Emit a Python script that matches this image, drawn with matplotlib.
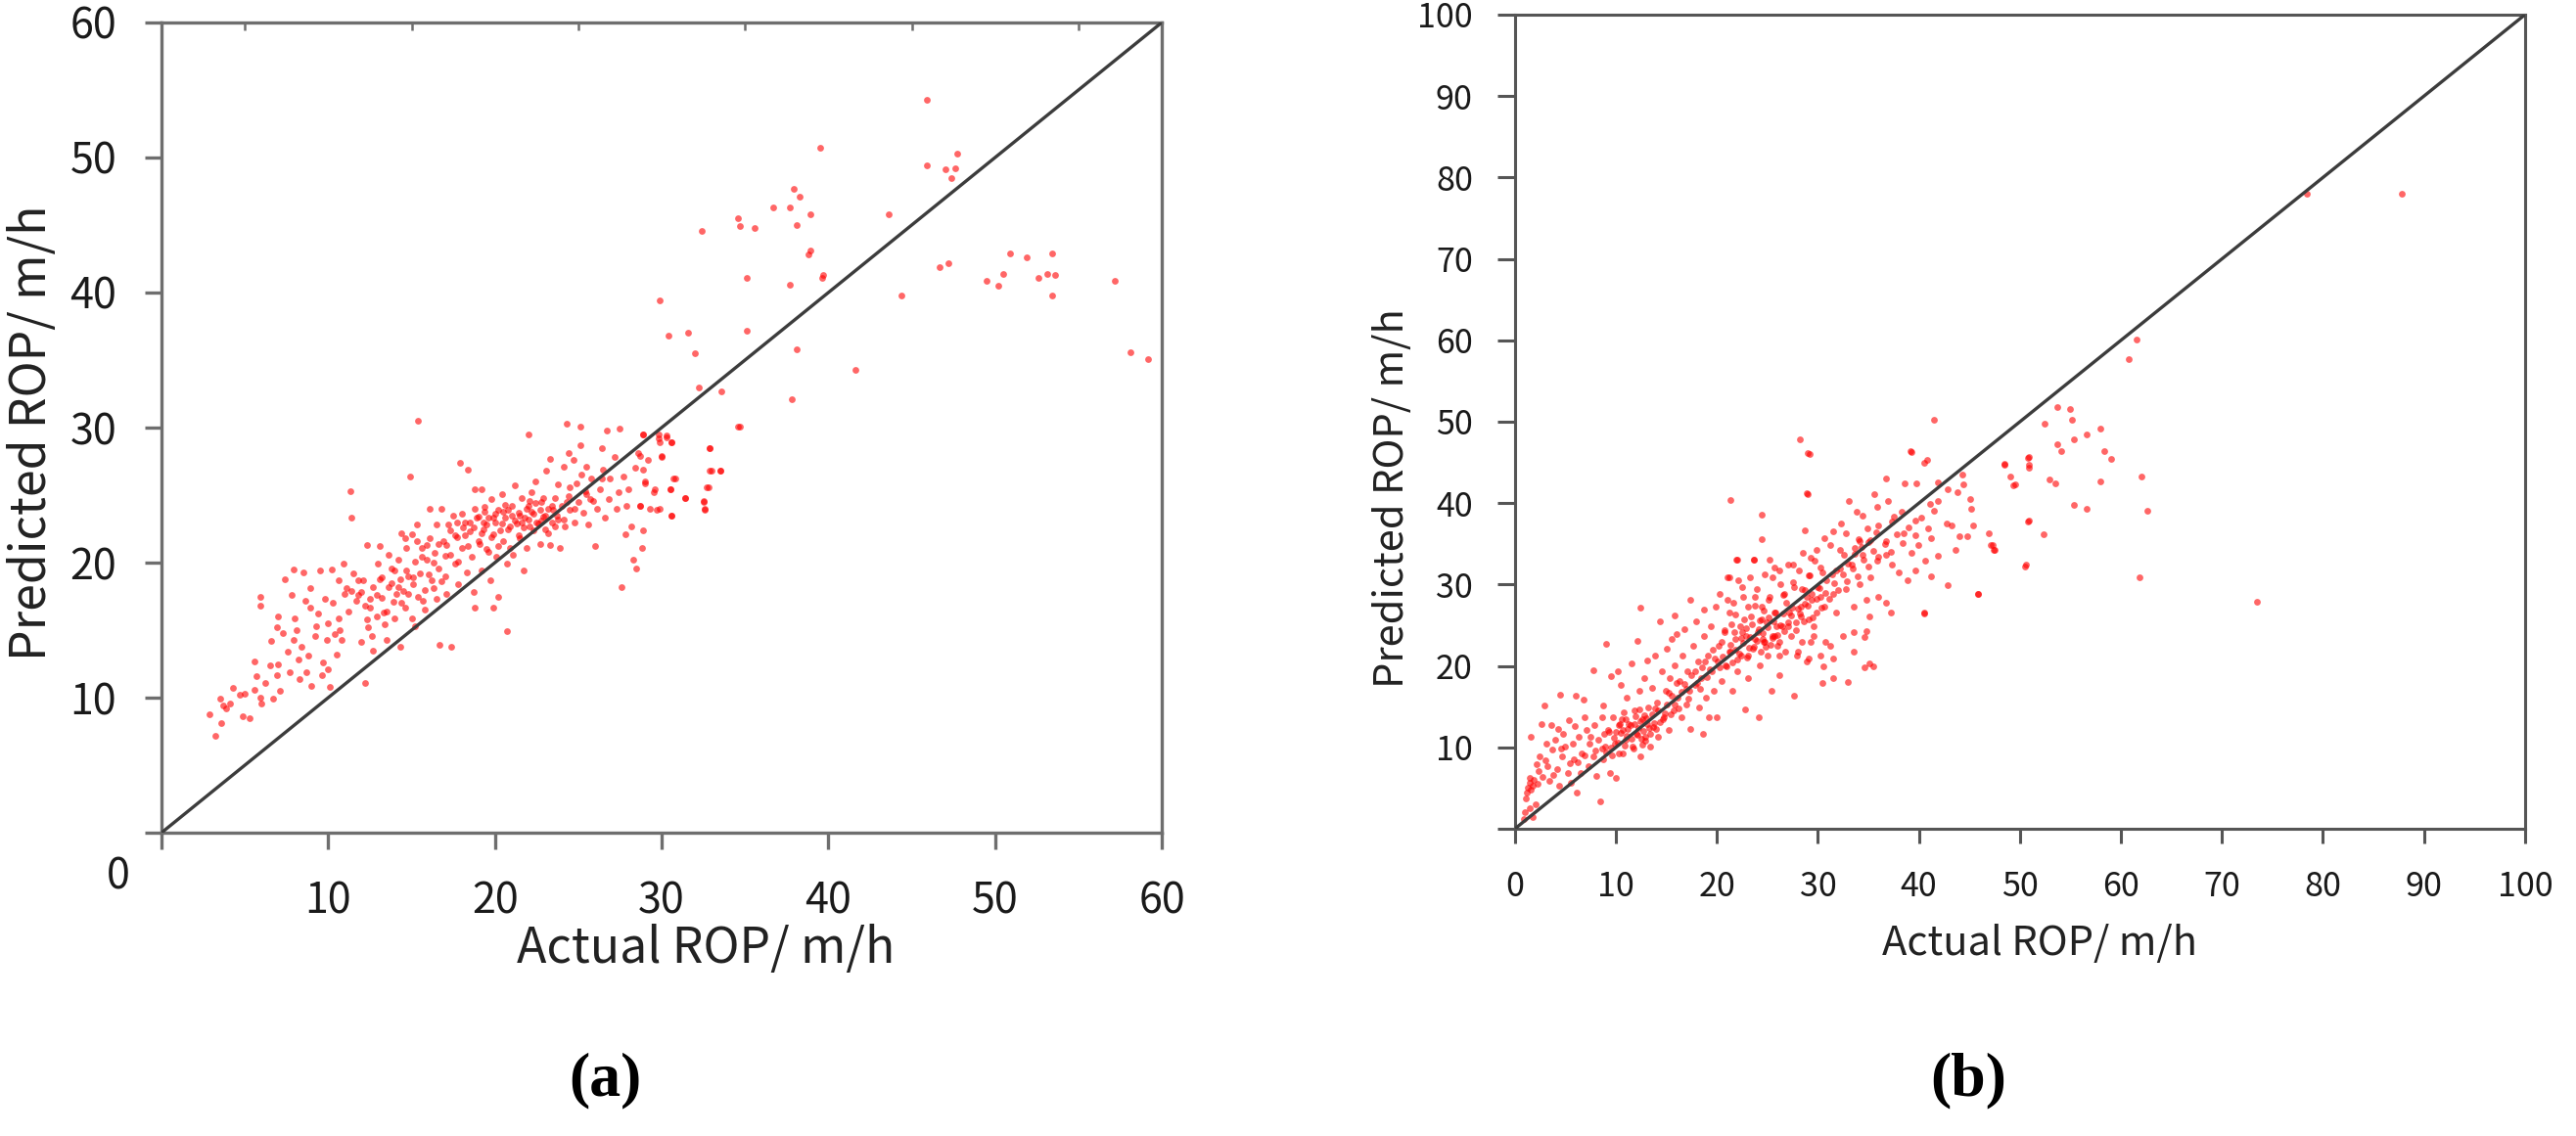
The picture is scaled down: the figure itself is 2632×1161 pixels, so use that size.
import matplotlib
matplotlib.use("Agg")
import numpy as np
import matplotlib.pyplot as plt
from matplotlib.ticker import FixedLocator

plt.rcParams["font.family"] = ["Noto Sans CJK SC", "DejaVu Sans"]

# ---- panel (a): (actual, predicted) pairs ----
a_tail = [
    (3.2, 7.2), (3.6, 8.1), (2.9, 8.8), (3.7, 9.4), (3.5, 9.9), (3.9, 9.2), (4.3, 10.7),
    (4.7, 10.2), (4.9, 8.6), (5.3, 8.5), (5.6, 10.6), (5.6, 12.7), (5.7, 11.6), (5.9, 10.0),
    (6.0, 9.6), (5.9, 17.5), (5.9, 16.8), (6.5, 12.4), (6.6, 14.2), (6.7, 9.9), (6.9, 11.7),
    (7.0, 12.5), (7.1, 10.5), (6.9, 15.2), (7.0, 16.0), (7.4, 18.8), (7.6, 13.4), (7.7, 11.9),
    (7.8, 17.6), (7.9, 19.5), (7.9, 14.3), (8.0, 15.9), (8.1, 15.0), (8.3, 11.4), (8.4, 13.8),
    (8.5, 19.3), (8.7, 11.9), (8.8, 13.1), (8.9, 18.1), (8.9, 16.7), (9.0, 10.9), (9.2, 14.6),
    (9.3, 15.3), (9.5, 19.4), (9.6, 11.7), (9.7, 12.6), (9.8, 17.3), (9.9, 14.3), (10.0, 15.5),
    (10.0, 12.1), (10.1, 10.8), (10.2, 19.5), (10.3, 17.0), (10.4, 14.7), (10.6, 18.7),
    (10.6, 15.9), (10.7, 15.0), (10.8, 14.3), (10.9, 19.9), (4.1, 9.6), (5.0, 10.3),
    (6.2, 11.1), (7.3, 14.8), (8.2, 12.8), (9.4, 16.2), (10.5, 13.2), (8.6, 17.2),
]
a_core = [
    (11.0, 17.7), (11.1, 18.1), (11.2, 16.4), (11.4, 23.3), (11.3, 25.3), (11.5, 19.2),
    (11.7, 17.2), (11.8, 18.7), (12.0, 17.8), (12.0, 14.1), (12.1, 18.7), (12.2, 11.1),
    (12.3, 21.3), (12.3, 15.8), (12.4, 15.2), (12.5, 16.7), (12.6, 14.6), (12.7, 13.5),
    (12.9, 17.6), (13.0, 19.9), (13.1, 21.2), (13.2, 18.9), (13.3, 16.3), (13.4, 15.4),
    (13.5, 14.3), (13.6, 20.6), (13.6, 18.2), (13.8, 19.6), (13.9, 17.1), (14.0, 15.9),
    (14.1, 17.7), (14.2, 20.2), (14.3, 18.8), (14.3, 13.8), (14.4, 22.2), (14.5, 17.9),
    (14.6, 16.7), (14.7, 21.1), (14.7, 19.4), (14.8, 17.7), (14.9, 26.4), (15.0, 22.1),
    (15.0, 15.9), (15.1, 18.4), (15.2, 20.1), (15.2, 15.3), (15.3, 22.8), (15.4, 30.5),
    (15.5, 19.2), (15.6, 21.1), (15.7, 17.2), (15.8, 16.5), (15.9, 20.2), (16.1, 24.0),
    (16.1, 21.8), (16.2, 18.7), (16.3, 18.1), (16.4, 20.7), (16.5, 17.3), (16.5, 22.8),
    (16.6, 19.6), (16.7, 13.9), (16.8, 24.0), (16.9, 21.6), (17.0, 19.0), (17.1, 17.7),
    (17.2, 22.8), (17.3, 20.6), (17.4, 13.8), (17.5, 23.5), (17.6, 19.9), (17.7, 21.9),
    (17.8, 18.4), (17.9, 27.4), (18.0, 21.1), (18.2, 23.0), (18.3, 19.3), (18.4, 26.9),
    (18.5, 22.3), (18.6, 20.4), (18.7, 17.8), (18.8, 25.4), (18.8, 16.7), (18.9, 23.3),
    (19.0, 21.6), (19.2, 25.4), (19.2, 19.4), (19.3, 22.5), (19.4, 24.1), (19.5, 21.0),
    (19.6, 23.3), (19.7, 18.7), (19.8, 24.7), (19.9, 22.1), (19.9, 16.7), (20.0, 23.0),
    (20.1, 20.4), (20.2, 23.9), (20.2, 17.5), (20.4, 25.1), (20.5, 21.6), (20.6, 23.3),
    (20.7, 14.9), (20.7, 19.9), (20.8, 22.5), (20.9, 21.1), (21.0, 24.2), (21.1, 20.6),
    (21.2, 25.7), (21.3, 22.9), (21.4, 23.7), (21.5, 21.8), (21.6, 24.8), (21.7, 19.4),
    (21.8, 23.3), (21.9, 21.1), (22.0, 29.5), (22.0, 24.2), (22.1, 22.7), (22.2, 25.2),
    (22.3, 23.6), (22.4, 26.0), (22.5, 23.0), (22.7, 21.4), (22.8, 24.5), (22.9, 23.4),
    (23.0, 22.5), (23.1, 26.8), (23.2, 24.0), (23.3, 27.7), (23.3, 21.3), (23.4, 23.0),
    (23.6, 24.8), (23.7, 23.5), (23.8, 25.8), (23.9, 21.1),
]
a_dense = [
    (18.5, 23.0), (19.0, 23.4), (19.5, 22.8), (20.0, 23.6), (20.3, 22.4), (20.8, 23.9),
    (21.2, 23.1), (21.7, 22.6), (22.2, 23.8), (22.6, 22.9), (23.0, 23.5), (23.4, 24.2),
    (22.4, 24.4), (21.9, 24.0), (20.6, 24.3), (19.8, 21.9), (19.2, 22.2), (18.8, 24.0),
    (23.8, 23.2), (24.3, 24.5), (23.2, 22.2), (22.9, 24.8), (21.4, 22.0), (20.2, 21.2),
    (18.1, 22.6), (17.6, 22.0), (18.4, 21.2), (19.6, 20.8), (17.0, 20.5), (16.3, 20.0),
    (15.3, 21.6), (14.6, 21.8), (14.0, 19.4), (15.8, 18.0), (14.8, 19.0), (15.4, 17.5),
    (13.2, 17.4), (12.7, 18.2), (13.5, 16.4), (11.8, 17.6), (12.2, 16.8), (11.4, 17.9),
    (22.0, 23.2), (22.7, 23.9), (21.5, 23.5), (20.9, 22.7), (22.3, 22.4), (23.6, 22.7),
    (19.4, 23.8), (18.2, 22.0), (17.1, 21.3), (16.0, 19.1), (15.1, 18.9), (14.4, 17.0),
    (13.8, 18.5), (12.9, 16.0), (16.6, 21.4), (17.8, 20.1), (24.8, 24.0), (25.5, 25.1),
    (18.0, 23.6), (18.7, 22.6), (19.3, 23.0), (19.9, 23.3), (20.4, 22.9), (21.0, 23.5),
    (21.6, 23.0), (22.1, 24.6), (22.8, 23.1), (23.5, 23.9), (20.5, 23.8), (19.1, 21.4),
    (17.3, 22.4), (16.8, 18.6), (15.6, 20.4), (14.2, 18.2), (13.1, 18.8), (12.5, 17.3),
    (15.9, 21.3), (17.7, 23.0), (24.5, 25.6), (25.9, 24.6), (26.4, 26.2), (24.1, 23.2),
]
a_upper = [
    (24.0, 24.2), (24.1, 27.1), (24.2, 22.7), (24.3, 30.3), (24.4, 28.1), (24.4, 24.9),
    (24.5, 23.9), (24.7, 27.6), (24.8, 23.0), (24.9, 25.9), (25.0, 24.5), (25.1, 30.1),
    (25.1, 28.7), (25.2, 26.5), (25.3, 23.7), (25.4, 25.3), (25.5, 27.1), (25.6, 22.8),
    (25.7, 24.7), (25.8, 26.2), (26.0, 21.2), (26.1, 24.0), (26.3, 25.4), (26.4, 28.5),
    (26.5, 26.9), (26.6, 23.3), (26.7, 29.8), (26.8, 24.7), (26.9, 26.2), (27.2, 27.8),
    (27.3, 24.0), (27.4, 25.2), (27.5, 29.9), (27.6, 18.2), (27.7, 26.4), (27.8, 22.1),
    (27.9, 24.2), (28.0, 25.4), (28.2, 22.7), (28.3, 20.2), (28.4, 27.0), (28.5, 19.6),
    (28.6, 28.1), (28.7, 24.2), (28.8, 21.1), (28.9, 29.5), (28.9, 22.4), (29.0, 26.0),
    (29.3, 24.0), (29.5, 25.2), (29.8, 29.2), (29.9, 24.0), (30.0, 27.8), (30.3, 29.4),
    (30.5, 25.4), (30.6, 28.9), (30.6, 23.5), (30.7, 26.2), (31.4, 24.8), (32.5, 24.6),
    (32.6, 24.0), (32.8, 25.6), (32.9, 28.5), (32.9, 26.8), (33.5, 26.8), (34.6, 30.1),
]
a_outliers = [
    (45.9, 54.3), (39.5, 50.7), (47.7, 50.3), (45.9, 49.4), (47.0, 49.1), (47.6, 49.2),
    (47.4, 48.5), (37.9, 47.7), (38.3, 47.1), (36.7, 46.3), (37.7, 46.3), (38.9, 45.8),
    (43.6, 45.8), (34.6, 45.5), (34.7, 44.9), (35.6, 44.8), (32.4, 44.6), (38.1, 45.0),
    (38.9, 43.1), (38.8, 42.8), (50.9, 42.9), (51.9, 42.6), (53.4, 42.9), (46.7, 41.9),
    (47.2, 42.2), (39.7, 41.3), (39.6, 41.1), (35.1, 41.1), (37.7, 40.6), (49.5, 40.9),
    (50.5, 41.4), (50.2, 40.5), (52.6, 41.1), (53.1, 41.4), (53.6, 41.3), (53.4, 39.8),
    (57.2, 40.9), (29.9, 39.4), (44.4, 39.8), (30.4, 36.8), (31.6, 37.0), (32.0, 35.5),
    (35.1, 37.2), (38.1, 35.8), (41.6, 34.3), (58.1, 35.6), (59.2, 35.1), (32.2, 33.0),
    (33.6, 32.7), (37.8, 32.1), (34.7, 30.1), (28.9, 29.5), (29.8, 29.5), (30.3, 29.3),
    (29.9, 28.9), (30.6, 28.9), (32.9, 28.5), (28.7, 27.9), (29.2, 27.6), (30.0, 27.9),
    (28.9, 26.9), (33.0, 26.8), (33.5, 26.8), (30.8, 26.2), (29.0, 25.9), (29.6, 25.4),
    (30.5, 25.4), (32.7, 25.6), (31.4, 24.8), (32.5, 24.5), (32.6, 23.9), (28.7, 24.2),
    (29.7, 23.9), (30.6, 23.5),
]

# ---- panel (b): (actual, predicted) pairs ----
b_low = [
    (1.45, 5.7), (1.8, 5.3), (1.3, 5.1), (1.9, 6.0), (1.1, 3.7), (1.45, 2.5), (1.8, 1.4),
    (1.0, 2.0), (1.6, 11.3), (2.6, 12.9), (2.9, 15.1), (2.1, 7.9), (2.4, 8.9), (2.7, 6.4),
    (3.1, 10.5), (3.2, 7.7), (3.4, 5.9), (3.6, 12.7), (3.7, 9.7), (4.0, 10.9), (4.2, 7.3),
    (4.4, 5.3), (4.5, 16.5), (4.7, 8.9), (4.8, 11.7), (5.0, 10.1), (5.2, 6.9), (5.3, 13.3),
    (5.5, 5.7), (5.7, 10.5), (5.8, 8.5), (6.0, 16.3), (6.1, 4.5), (6.3, 11.3), (6.5, 6.9),
    (6.6, 9.3), (6.8, 15.9), (6.9, 13.7), (7.1, 12.1), (7.3, 7.7), (7.4, 10.5), (7.8, 19.5),
    (7.8, 8.9), (7.9, 12.7), (8.1, 6.5), (8.2, 10.9), (8.4, 3.3), (8.6, 13.7), (8.7, 15.1),
    (8.7, 8.5), (8.9, 10.1), (9.0, 22.7), (9.2, 12.1), (9.4, 6.9), (9.5, 18.7), (9.7, 13.7),
    (9.9, 10.5), (10.0, 6.3), (1.2, 4.4), (1.6, 4.8), (2.2, 5.5), (0.9, 1.2), (2.0, 3.0),
    (1.5, 6.3), (2.3, 7.1), (3.0, 8.4), (3.8, 6.6), (4.6, 9.8), (5.4, 8.0), (6.2, 8.2),
    (6.9, 9.0), (7.5, 11.3), (8.0, 9.6), (8.8, 11.6), (9.6, 9.0), (5.9, 12.6), (4.3, 12.2),
]
b_mid = [
    (10.2, 19.3), (10.3, 12.7), (10.3, 9.3), (10.5, 17.7), (10.7, 12.1), (10.8, 14.3),
    (11.0, 10.9), (11.1, 16.1), (11.3, 12.9), (11.5, 20.3), (11.6, 10.1), (11.8, 14.5),
    (12.0, 11.7), (12.1, 23.1), (12.3, 16.9), (12.4, 27.2), (12.4, 8.9), (12.6, 13.5),
    (12.8, 18.5), (12.9, 11.3), (13.1, 20.7), (13.2, 14.9), (13.4, 10.1), (13.6, 17.3),
    (13.7, 12.5), (13.9, 21.3), (14.1, 15.5), (14.2, 11.3), (14.4, 25.5), (14.5, 19.3),
    (14.7, 13.7), (14.9, 16.9), (15.0, 22.1), (15.2, 12.1), (15.3, 18.5), (15.5, 23.3),
    (15.7, 14.5), (15.8, 26.2), (15.8, 20.1), (16.0, 23.9), (16.1, 16.1), (16.3, 18.1),
    (16.5, 13.7), (16.6, 21.3), (16.8, 24.5), (17.0, 15.3), (17.1, 19.3), (17.3, 16.9),
    (17.4, 28.1), (17.4, 12.3), (17.6, 22.5), (17.8, 17.7), (17.9, 25.5), (18.1, 20.5),
    (18.2, 14.9), (18.4, 18.5), (18.6, 11.7), (18.7, 26.9), (18.7, 23.7), (18.9, 16.1),
    (19.1, 21.3), (19.2, 13.7), (19.4, 24.9), (19.5, 19.3), (19.7, 16.9), (19.9, 27.3),
    (20.0, 13.7), (20.2, 22.5),
]
b_dense = [
    (9.8, 11.2), (10.2, 10.6), (10.5, 11.8), (10.9, 10.2), (11.2, 12.3), (11.5, 11.0),
    (11.8, 12.8), (12.1, 11.5), (12.4, 13.2), (12.7, 12.0), (13.0, 13.6), (13.3, 12.4),
    (13.6, 14.1), (11.0, 13.5), (10.4, 12.9), (9.5, 10.0), (9.0, 9.4), (8.6, 9.9),
    (12.9, 10.8), (13.8, 13.0), (14.2, 14.5), (14.6, 13.4), (15.0, 15.2), (15.4, 14.0),
    (11.7, 9.8), (12.3, 14.6), (10.7, 9.3), (9.3, 11.9), (14.0, 12.2), (12.6, 10.3),
    (22.2, 21.5), (22.6, 22.8), (23.0, 21.0), (23.3, 23.6), (23.7, 22.3), (24.0, 24.2),
    (24.3, 21.8), (24.6, 23.0), (25.0, 24.8), (25.3, 22.6), (25.6, 25.5), (26.0, 23.8),
    (26.3, 25.0), (26.7, 24.3), (21.5, 20.4), (21.8, 22.0), (20.6, 21.2), (20.3, 19.8),
    (19.8, 20.9), (19.0, 18.6), (18.5, 19.8), (18.0, 17.9), (17.5, 18.9), (17.0, 17.2),
    (16.5, 16.8), (16.0, 17.9), (15.5, 16.3), (27.3, 26.2), (28.0, 27.0), (28.7, 27.6),
    (29.4, 28.8), (30.1, 29.6), (30.8, 30.5), (31.4, 31.2), (32.2, 32.0), (33.0, 32.6),
    (33.6, 33.8), (34.3, 34.6), (35.0, 35.2),
    (10.0, 11.9), (10.6, 13.4), (11.1, 11.4), (11.4, 12.7), (11.9, 13.8), (12.2, 12.4),
    (12.5, 11.0), (12.8, 13.9), (13.1, 12.9), (13.4, 11.6), (13.9, 14.8), (14.4, 13.1),
    (14.8, 14.2), (15.2, 16.7), (15.8, 15.3), (16.2, 14.8), (16.8, 17.8), (17.2, 16.0),
    (17.8, 19.4), (18.3, 17.2), (18.8, 20.6), (19.3, 19.6), (19.6, 22.0), (20.1, 20.5),
    (20.5, 23.0), (20.9, 20.0), (21.3, 22.6), (21.7, 24.1), (22.0, 20.8), (22.4, 23.4),
    (22.9, 24.6), (23.2, 22.2), (23.5, 25.1), (23.9, 23.1), (24.2, 25.6), (24.5, 24.0),
    (24.8, 22.4), (25.1, 25.9), (25.5, 23.4), (25.9, 24.9), (26.2, 22.9), (26.6, 26.4),
    (27.0, 24.9), (27.4, 27.2), (27.8, 24.4), (28.2, 26.4), (28.6, 25.5), (29.0, 27.4),
    (29.5, 26.0), (29.9, 28.2), (30.3, 27.1), (30.7, 29.0), (31.1, 28.3), (31.6, 30.2),
    (32.0, 29.3), (32.5, 31.2), (32.9, 30.4), (33.4, 32.0), (33.9, 31.0), (34.5, 33.1),
    (35.0, 32.2), (35.5, 34.1), (36.0, 33.4), (36.6, 35.0), (37.2, 34.0), (37.8, 36.2),
    (38.4, 35.1), (39.0, 37.0), (39.6, 36.0), (40.2, 38.2), (40.9, 36.9), (41.5, 39.0),
    (24.6, 26.8), (23.8, 27.4), (22.7, 25.7), (21.4, 25.1), (20.7, 24.4), (26.9, 27.8),
    (28.4, 29.5), (30.4, 31.5), (32.6, 33.7), (34.0, 35.6), (35.8, 36.4), (37.5, 38.3),
]
b_core = [
    (20.3, 28.9), (20.5, 18.1), (20.7, 24.1), (20.8, 20.1), (21.0, 30.9), (21.2, 26.5),
    (21.3, 21.7), (21.5, 16.9), (21.6, 27.7), (21.8, 23.3), (22.0, 33.1), (22.0, 19.3),
    (22.1, 30.5), (22.3, 24.9), (22.4, 21.3), (22.6, 28.5), (22.8, 14.7), (22.9, 23.7),
    (23.1, 18.5), (23.3, 30.9), (23.4, 26.1), (23.6, 22.1), (23.7, 33.1), (23.9, 29.5),
    (24.1, 13.7), (24.1, 24.5), (24.2, 20.1), (24.4, 27.3), (24.5, 23.3), (24.7, 31.3),
    (24.9, 25.3), (25.0, 21.3), (25.2, 28.5), (25.4, 16.9), (25.5, 23.7), (25.7, 32.1),
    (25.8, 26.5), (26.0, 22.5), (26.2, 18.9), (26.3, 30.1), (26.5, 24.9), (26.6, 28.7),
    (26.8, 21.7), (27.0, 32.5), (27.1, 26.5), (27.3, 23.7), (27.5, 30.3), (27.6, 16.3),
    (27.8, 25.3), (27.9, 21.3), (28.1, 31.7), (28.3, 27.3), (28.4, 22.9), (28.7, 29.3),
    (28.9, 20.5), (29.1, 25.7), (29.2, 31.1), (29.4, 28.1), (29.6, 23.7), (29.7, 32.9),
    (29.9, 26.5), (30.0, 29.7), (30.4, 17.9), (30.5, 19.9), (30.7, 22.9),
]
b_upper = [
    (28.2, 47.8), (29.0, 46.2), (41.5, 50.2), (39.2, 46.4), (40.8, 45.3), (21.3, 40.4),
    (28.9, 41.2), (24.4, 38.6), (24.4, 35.6), (28.7, 36.6), (21.9, 33.1), (23.7, 33.1),
    (25.2, 33.1), (36.7, 43.0), (38.6, 42.4), (39.7, 42.4), (35.6, 41.1), (36.9, 40.3),
    (33.1, 40.3), (33.8, 38.9), (34.4, 38.5), (35.9, 39.5), (38.3, 38.9), (37.3, 37.7),
    (36.0, 37.3), (34.9, 36.9), (32.3, 37.5), (31.5, 36.5), (32.8, 36.3), (30.6, 35.7),
    (34.1, 35.3), (35.2, 35.5), (36.7, 35.3), (38.5, 36.3), (39.6, 37.9), (41.1, 39.9),
    (41.9, 40.3), (42.8, 41.7), (43.8, 41.3), (44.3, 43.5), (45.1, 40.5), (45.2, 39.3),
    (44.4, 42.3), (41.9, 42.5), (42.7, 37.5), (43.2, 37.3), (45.4, 37.3), (44.0, 35.9),
    (44.8, 35.9), (46.9, 36.3), (47.3, 34.9), (47.5, 34.3), (48.5, 44.8), (49.0, 43.3),
    (49.5, 42.3), (50.9, 45.7), (50.9, 44.7), (50.9, 37.8), (50.6, 32.4), (45.8, 28.9),
    (42.8, 29.9), (40.5, 26.5), (41.2, 31.0), (38.9, 30.5), (39.6, 31.7), (40.6, 32.9),
    (41.9, 33.5), (43.6, 34.3), (39.9, 34.9), (41.2, 35.7), (39.3, 33.9), (37.3, 32.5),
    (38.0, 31.5), (35.9, 32.9), (35.2, 30.9), (36.7, 33.7), (34.4, 33.7), (33.6, 34.5),
    (32.2, 34.3), (31.2, 34.9), (29.9, 34.3), (29.3, 33.3), (28.5, 33.9), (27.5, 32.5),
    (26.2, 31.7), (25.5, 30.9), (29.1, 31.1), (30.2, 32.1), (31.8, 31.7), (33.3, 32.5),
    (34.1, 30.1), (32.8, 29.5), (31.5, 28.9), (30.2, 28.5), (28.9, 28.5), (27.6, 29.7),
    (26.7, 28.9), (25.1, 28.1), (23.8, 28.5), (22.5, 29.7), (21.2, 30.9), (21.0, 28.1),
    (21.8, 26.3), (23.1, 27.3), (24.4, 25.7), (25.7, 26.5), (27.0, 25.3), (28.3, 26.1),
    (29.6, 24.9), (30.6, 27.3), (31.8, 26.5), (33.5, 27.3), (34.8, 28.1), (36.0, 28.5),
    (36.7, 27.7), (37.2, 26.5), (35.1, 26.1), (33.5, 24.1), (32.5, 23.7), (34.8, 24.3),
    (34.6, 23.5), (33.5, 21.8), (31.2, 22.5), (29.3, 22.9), (28.0, 21.7), (29.1, 20.9),
    (30.2, 21.3), (23.8, 23.3), (24.7, 22.9), (25.7, 23.7), (22.5, 24.1), (21.2, 21.7),
    (23.1, 21.3), (26.2, 21.3), (35.1, 20.3), (31.5, 20.9), (33.0, 18.0), (34.6, 19.8),
    (35.5, 20.0), (31.5, 18.5),
]
b_outliers = [
    (87.8, 78.0), (78.4, 78.0), (73.5, 27.9), (61.5, 60.1), (60.8, 57.7), (61.8, 30.9),
    (62.0, 43.3), (62.6, 39.1), (53.7, 51.8), (55.0, 51.5), (52.4, 49.8), (55.1, 50.2),
    (56.6, 48.4), (58.0, 49.1), (53.7, 47.2), (54.1, 46.4), (55.3, 47.8), (58.3, 46.4),
    (59.0, 45.4), (58.0, 42.7), (52.9, 42.9), (53.5, 42.4), (55.3, 39.8), (56.6, 39.3),
    (50.8, 45.6), (50.9, 44.4), (48.5, 44.7), (49.3, 42.2), (50.8, 37.7), (52.3, 36.2),
    (50.5, 32.2), (47.1, 34.9), (47.4, 34.3), (45.8, 28.8), (40.5, 45.0), (39.3, 46.3),
    (29.2, 46.0), (29.0, 41.1), (40.5, 26.4),
]

a_ticks = [0, 10, 20, 30, 40, 50, 60]
a_top_ticks = [5, 15, 25, 35, 45, 55]
b_ticks = [0, 10, 20, 30, 40, 50, 60, 70, 80, 90, 100]

W, H = 2632, 1161
fig = plt.figure(figsize=(W / 100, H / 100), dpi=100)


def px(x, y):
    return x / W, 1 - y / H


def draw_panel(ax, groups, lim, ticks, spine_col, lw, tick_fs, xpad, ypad, tick_len):
    pts = np.array([p for g in groups for p in g])
    ax.scatter(pts[:, 0], pts[:, 1], s=24, c="#ff0000", alpha=0.6, linewidths=0,
               zorder=2, clip_on=False)
    ax.plot([0, lim], [0, lim], color="#3c3c3c", lw=2.4, zorder=3)
    ax.set_xlim(0, lim)
    ax.set_ylim(0, lim)
    for s in ax.spines.values():
        s.set_color(spine_col)
        s.set_linewidth(lw)
    ax.set_xticks(ticks)
    ax.set_yticks(ticks)
    ax.set_yticklabels([""] + [str(t) for t in ticks[1:]])
    ax.tick_params(which="major", direction="out", width=lw, color=spine_col,
                   labelsize=tick_fs, labelcolor="#1a1a1a")
    ax.tick_params(axis="x", length=tick_len[0], pad=xpad)
    ax.tick_params(axis="y", length=tick_len[1], pad=ypad)


ax_a = fig.add_axes([0.0627, 0.2670, 0.3883, 0.7132])
draw_panel(ax_a, [a_tail, a_core, a_dense, a_upper, a_outliers], 60, a_ticks,
           "#6e6e6e", 2.4, 31, 23, 21, (12, 12))
ax_a.set_xticklabels([""] + [str(t) for t in a_ticks[1:]])
ax_a.xaxis.set_minor_locator(FixedLocator(a_top_ticks))
ax_a.tick_params(which="minor", bottom=False, top=True, direction="in",
                 length=6, width=1.8, color="#6e6e6e")
ax_a.text(-2.6, -3.3, "0", fontsize=31, color="#1a1a1a", ha="center", va="center",
          clip_on=False)

ax_b = fig.add_axes([0.5881, 0.2705, 0.3921, 0.7166])
draw_panel(ax_b, [b_low, b_mid, b_dense, b_core, b_upper, b_outliers], 100, b_ticks,
           "#555555", 2.2, 24.5, 19, 18, (11, 13))

fig.text(*px(721, 970), "Actual ROP/ m/h", fontsize=36, color="#222222",
         ha="center", va="center")
fig.text(*px(33, 442), "Predicted ROP/ m/h", fontsize=36, color="#222222",
         ha="center", va="center", rotation=90)
fig.text(*px(2084, 964), "Actual ROP/ m/h", fontsize=30, color="#222222",
         ha="center", va="center")
fig.text(*px(1422, 509), "Predicted ROP/ m/h", fontsize=30, color="#222222",
         ha="center", va="center", rotation=90)

for lab, x in [("(a)", 618), ("(b)", 2011)]:
    fig.text(*px(x, 1104), lab, fontsize=46, fontweight="bold",
             family=["Liberation Serif", "DejaVu Serif"], ha="center", va="center")

fig.savefig("out.png", dpi=100, facecolor="white")
